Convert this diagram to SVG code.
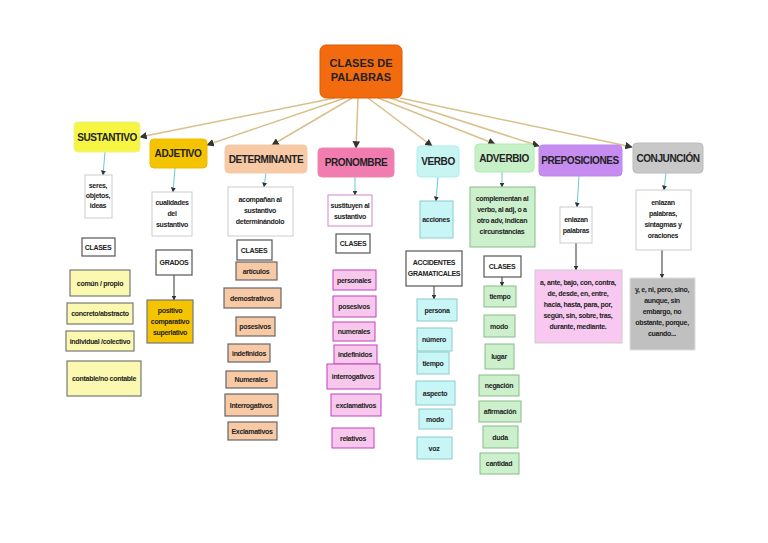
<svg xmlns="http://www.w3.org/2000/svg" width="768" height="543" viewBox="0 0 768 543">
<defs>
<marker id="ah" viewBox="0 0 10 10" refX="9" refY="5" markerWidth="5" markerHeight="5" orient="auto"><path d="M0,0L10,5L0,10z" fill="#333"/></marker>
<style>
text{font-family:"Liberation Sans",Arial,sans-serif;font-weight:bold;text-anchor:middle;fill:#222}
.s{font-size:7px;letter-spacing:-0.3px}
.h{font-size:10px;letter-spacing:-0.4px}
.w{fill:#fff;stroke:#ccc;stroke-width:1}
.k{fill:#fff;stroke:#555;stroke-width:1.2}
.ys{fill:#fbf9b0;stroke:#777;stroke-width:1.2}
.ds{fill:#f8c9a5;stroke:#666;stroke-width:1.2}
.ps{fill:#f8c8ec;stroke:#c040c0;stroke-width:1}
.vs{fill:#c8f5f5;stroke:#8ccccc;stroke-width:1}
.as{fill:#ccf0cc;stroke:#88bb88;stroke-width:1}
.main{stroke:#d9c08a;stroke-width:1.5;fill:none;marker-end:url(#ah)}
.sub{stroke:#6cc;stroke-width:1;fill:none;marker-end:url(#ah)}
.dk{stroke:#333;stroke-width:1;fill:none;marker-end:url(#ah)}
</style>
</defs>
<rect width="768" height="543" fill="#fff"/>
<g id="connectors">
<path class="main" d="M335,98L140,137"/>
<path class="main" d="M345,98L207,145"/>
<path class="main" d="M352,98L272,145"/>
<path class="main" d="M358,98L356,148"/>
<path class="main" d="M368,98L432,146"/>
<path class="main" d="M378,98L495,144"/>
<path class="main" d="M390,98L539,146"/>
<path class="main" d="M400,98L632,147"/>
<path class="sub" d="M105,152L103,175"/>
<path class="sub" d="M175,168L173,192"/>
<path class="sub" d="M266,173L264,187"/>
<path class="sub" d="M355,177L355,195"/>
<path class="sub" d="M438,177L436,201"/>
<path class="sub" d="M502,172L502,187"/>
<path class="sub" d="M579,176L577,207"/>
<path class="sub" d="M666,173L664,190"/>
<path class="dk" d="M174,275L174,300"/>
<path class="dk" d="M434,286L434,299"/>
<path class="dk" d="M502,277L502,286"/>
<path class="dk" d="M576,243L576,270"/>
<path class="dk" d="M662,250L662,278"/>
</g>
<g id="root"><rect x="320" y="45" width="82" height="53" rx="6" fill="#f26b0f" stroke="#e05a00"/><text x="361" y="67" font-size="11">CLASES DE</text><text x="361" y="81" font-size="11">PALABRAS</text></g>
<g id="sustantivo">
<rect x="74" y="122" width="66" height="30" rx="4" fill="#f5f542" stroke="#ee9"/><text class="h" x="107" y="141">SUSTANTIVO</text>
<rect class="w" x="85" y="175" width="27" height="43"/><text class="s" x="98" y="188">seres,</text><text class="s" x="98" y="198">objetos,</text><text class="s" x="98" y="208">ideas</text>
<rect class="k" x="82" y="238" width="33" height="18"/><text class="s" x="98" y="250">CLASES</text>
<rect class="ys" x="70" y="270" width="60" height="26"/><text class="s" x="100" y="286">común / propio</text>
<rect class="ys" x="67" y="303" width="66" height="21"/><text class="s" x="100" y="316">concreto/abstracto</text>
<rect class="ys" x="66" y="331" width="68" height="20"/><text class="s" x="100" y="344">individual /colectivo</text>
<rect class="ys" x="67" y="361" width="74" height="35"/><text class="s" x="104" y="381">contable/no contable</text>
</g>
<g id="adjetivo">
<rect x="150" y="139" width="57" height="29" rx="4" fill="#f5c400" stroke="#eb0"/><text class="h" x="178" y="157">ADJETIVO</text>
<rect class="w" x="152" y="192" width="40" height="44" stroke="#eed"/><text class="s" x="172" y="205">cualidades</text><text class="s" x="172" y="216">del</text><text class="s" x="172" y="227">sustantivo</text>
<rect class="k" x="156" y="250" width="36" height="25"/><text class="s" x="174" y="265">GRADOS</text>
<rect x="147" y="300" width="46" height="43" fill="#f5c400" stroke="#777" stroke-width="1.2"/><text class="s" x="170" y="313">positivo</text><text class="s" x="170" y="324">comparativo</text><text class="s" x="170" y="335">superlativo</text>
</g>
<g id="determinante">
<rect x="225" y="145" width="82" height="28" rx="4" fill="#f8c9a5" stroke="#eca"/><text class="h" x="266" y="163">DETERMINANTE</text>
<rect class="w" x="228" y="187" width="65" height="49"/><text class="s" x="260" y="202">acompañan al</text><text class="s" x="260" y="213">sustantivo</text><text class="s" x="260" y="224">determinándolo</text>
<rect class="k" x="237" y="240" width="35" height="20"/><text class="s" x="254" y="253">CLASES</text>
<rect class="ds" x="236" y="262" width="41" height="18"/><text class="s" x="256" y="274">artículos</text>
<rect class="ds" x="224" y="288" width="57" height="20"/><text class="s" x="252" y="301">demostrativos</text>
<rect class="ds" x="236" y="317" width="39" height="19"/><text class="s" x="255" y="329">posesivos</text>
<rect class="ds" x="228" y="344" width="42" height="18"/><text class="s" x="249" y="356">indefinidos</text>
<rect class="ds" x="226" y="371" width="51" height="17"/><text class="s" x="251" y="382">Numerales</text>
<rect class="ds" x="225" y="394" width="53" height="22"/><text class="s" x="251" y="408">Interrogativos</text>
<rect class="ds" x="228" y="422" width="49" height="18"/><text class="s" x="252" y="434">Exclamativos</text>
</g>
<g id="pronombre">
<rect x="318" y="148" width="76" height="29" rx="4" fill="#f07cb0" stroke="#e8a"/><text class="h" x="356" y="166">PRONOMBRE</text>
<rect x="328" y="195" width="44" height="31" fill="#fff" stroke="#c8c"/><text class="s" x="350" y="208">sustituyen al</text><text class="s" x="350" y="219">sustantivo</text>
<rect class="k" x="336" y="234" width="34" height="19"/><text class="s" x="353" y="246">CLASES</text>
<rect class="ps" x="333" y="270" width="43" height="20"/><text class="s" x="354" y="283">personales</text>
<rect class="ps" x="333" y="296" width="43" height="21"/><text class="s" x="354" y="309">posesivos</text>
<rect class="ps" x="333" y="322" width="42" height="19"/><text class="s" x="354" y="334">numerales</text>
<rect class="ps" x="334" y="345" width="43" height="19"/><text class="s" x="355" y="357">indefinidos</text>
<rect class="ps" x="327" y="364" width="53" height="25"/><text class="s" x="353" y="379">interrogativos</text>
<rect class="ps" x="331" y="394" width="50" height="22"/><text class="s" x="356" y="408">exclamativos</text>
<rect class="ps" x="332" y="428" width="42" height="20"/><text class="s" x="353" y="441">relativos</text>
</g>
<g id="verbo">
<rect x="417" y="146" width="42" height="31" rx="4" fill="#c8f5f2" stroke="#aee"/><text class="h" x="438" y="165">VERBO</text>
<rect class="vs" x="420" y="201" width="33" height="37" fill="#fff"/><text class="s" x="436" y="222">acciones</text>
<rect class="k" x="406" y="251" width="56" height="35"/><text class="s" x="434" y="265">ACCIDENTES</text><text class="s" x="434" y="276">GRAMATICALES</text>
<rect class="vs" x="417" y="299" width="40" height="22"/><text class="s" x="437" y="313">persona</text>
<rect class="vs" x="417" y="328" width="35" height="23"/><text class="s" x="434" y="342">número</text>
<rect class="vs" x="417" y="352" width="32" height="22"/><text class="s" x="433" y="366">tiempo</text>
<rect class="vs" x="416" y="381" width="39" height="24"/><text class="s" x="435" y="396">aspecto</text>
<rect class="vs" x="419" y="409" width="33" height="20"/><text class="s" x="435" y="422">modo</text>
<rect class="vs" x="417" y="437" width="35" height="22"/><text class="s" x="434" y="451">voz</text>
</g>
<g id="adverbio">
<rect x="475" y="144" width="59" height="28" rx="4" fill="#c8f0c8" stroke="#aea"/><text class="h" x="504" y="162">ADVERBIO</text>
<rect class="as" x="470" y="187" width="65" height="60" fill="#fff"/><text class="s" x="502" y="201">complementan al</text><text class="s" x="502" y="212">verbo, al adj, o a</text><text class="s" x="502" y="223">otro adv, indican</text><text class="s" x="502" y="234">circunstancias</text>
<rect class="k" x="484" y="256" width="37" height="21"/><text class="s" x="502" y="269">CLASES</text>
<rect class="as" x="484" y="286" width="32" height="21"/><text class="s" x="500" y="299">tiempo</text>
<rect class="as" x="484" y="315" width="31" height="22"/><text class="s" x="499" y="329">modo</text>
<rect class="as" x="485" y="344" width="29" height="25"/><text class="s" x="499" y="359">lugar</text>
<rect class="as" x="479" y="375" width="40" height="21"/><text class="s" x="499" y="388">negación</text>
<rect class="as" x="479" y="401" width="42" height="21"/><text class="s" x="500" y="414">afirmación</text>
<rect class="as" x="483" y="426" width="35" height="22"/><text class="s" x="500" y="440">duda</text>
<rect class="as" x="480" y="453" width="39" height="21"/><text class="s" x="499" y="466">cantidad</text>
</g>
<g id="preposiciones">
<rect x="539" y="145" width="83" height="31" rx="4" fill="#c78cf0" stroke="#b8e"/><text class="h" x="580" y="164" font-size="9.5">PREPOSICIONES</text>
<rect class="w" x="560" y="207" width="32" height="36"/><text class="s" x="576" y="222">enlazan</text><text class="s" x="576" y="233">palabras</text>
<rect x="535" y="270" width="87" height="73" fill="#f8c8f0" stroke="#ccc"/>
<text class="s" x="578" y="285">a, ante, bajo, con, contra,</text><text class="s" x="578" y="296">de, desde, en, entre,</text><text class="s" x="578" y="307">hacia, hasta, para, por,</text><text class="s" x="578" y="318">según, sin, sobre, tras,</text><text class="s" x="578" y="329">durante, mediante.</text>
</g>
<g id="conjuncion">
<rect x="633" y="143" width="70" height="30" rx="4" fill="#c8c8c8" stroke="#bbb"/><text class="h" x="668" y="162">CONJUNCIÓN</text>
<rect class="w" x="636" y="190" width="55" height="60"/><text class="s" x="663" y="205">enlazan</text><text class="s" x="663" y="216">palabras,</text><text class="s" x="663" y="227">sintagmas y</text><text class="s" x="663" y="238">oraciones</text>
<rect x="630" y="278" width="65" height="72" fill="#c0c0c0" stroke="#ddd"/>
<text class="s" x="662" y="292">y, e, ni, pero, sino,</text><text class="s" x="662" y="303">aunque, sin</text><text class="s" x="662" y="314">embargo, no</text><text class="s" x="662" y="325">obstante, porque,</text><text class="s" x="662" y="336">cuando...</text>
</g>
</svg>
